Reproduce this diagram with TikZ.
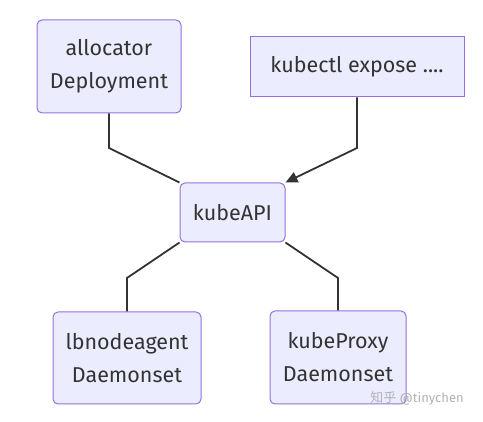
\documentclass[tikz,border=0pt]{standalone}
\usepackage{fontspec}
\setmainfont{Fira Sans}
\newfontfamily\cjk{Noto Sans CJK SC}
\usetikzlibrary{arrows.meta}
\definecolor{boxfill}{HTML}{ECECFF}
\definecolor{boxline}{HTML}{9370DB}
\definecolor{edge}{HTML}{333333}

\begin{document}
\begin{tikzpicture}[x=1pt,y=-1pt,
		box/.style={draw=boxline, fill=boxfill, line width=1pt, rounded corners=5pt, align=center,
			text=edge, inner sep=0pt, font=\fontsize{21.5}{33}\selectfont},
		link/.style={draw=edge, line width=1.8pt}]
	\useasboundingbox (0,0) rectangle (483,422);

	% boxes
	\node[box, minimum width=144pt, minimum height=93pt] (alloc) at (109,66.5) {allocator\\Deployment};
	\node[box, rounded corners=0pt, minimum width=214pt, minimum height=60pt] (expose) at (357,67) {kubectl expose ....};
	\node[box, minimum width=105pt, minimum height=59pt] (kubeapi) at (232.5,212.5) {kubeAPI};
	\node[box, minimum width=148pt, minimum height=92pt] (lbnode) at (127,358) {lbnodeagent\\Daemonset};
	\node[box, minimum width=136pt, minimum height=93pt] (proxy) at (338,357.5) {kubeProxy\\Daemonset};

	% connectors
	\draw[link] (alloc.south) -- (109,148) -- (kubeapi.north west);
	\draw[link, -{Triangle[length=12pt,width=11pt]}] (expose.south) -- (357,148) -- (kubeapi.north east);
	\draw[link] (kubeapi.south west) -- (127,278) -- (lbnode.north);
	\draw[link] (kubeapi.south east) -- (338,278) -- (proxy.north);

	\node[text=black!30, font=\fontsize{13}{15}\selectfont] (mark) at (417,398) {{\cjk 知乎} @tinychen};
\end{tikzpicture}
\end{document}
